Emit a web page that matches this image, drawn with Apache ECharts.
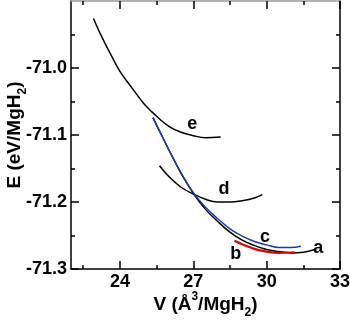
<!DOCTYPE html>
<html>
<head>
<meta charset="utf-8">
<script src="https://cdn.jsdelivr.net/npm/echarts@6/dist/echarts.min.js"></script>
<style>
  html, body { margin: 0; padding: 0; background: #fff; }
  #chart { width: 350px; height: 322px; }
</style>
</head>
<body>
<div id="chart"></div>
<script>
// curves: [V (Å3/MgH2), E (eV/MgH2)]
const curveA = [[25.35, -71.074], [25.7, -71.1], [26.0, -71.122], [26.5, -71.157], [27.0, -71.187],
  [27.5, -71.211], [28.0, -71.229], [28.5, -71.245], [29.0, -71.257], [29.5, -71.265],
  [30.0, -71.271], [30.5, -71.274], [31.0, -71.276], [31.5, -71.275], [31.97, -71.271]];
const curveB = [[28.68, -71.258], [29.0, -71.263], [29.5, -71.270], [30.0, -71.274], [30.5, -71.276], [31.15, -71.275]];
const curveC = [[25.35, -71.074], [25.7, -71.1], [26.0, -71.122], [26.5, -71.157], [27.0, -71.186],
  [27.5, -71.208], [28.0, -71.225], [28.5, -71.240], [29.0, -71.251], [29.5, -71.259],
  [30.0, -71.264], [30.5, -71.268], [31.0, -71.268], [31.4, -71.266]];
const curveD = [[25.62, -71.146], [26.0, -71.162], [26.5, -71.178], [27.0, -71.188], [27.5, -71.196],
  [28.0, -71.2], [28.5, -71.2], [29.0, -71.198], [29.5, -71.194], [29.82, -71.189]];
const curveE = [[22.92, -70.926], [23.2, -70.949], [23.6, -70.978], [24.0, -71.005], [24.5, -71.03],
  [25.0, -71.054], [25.5, -71.072], [26.0, -71.087], [26.5, -71.096], [27.0, -71.101],
  [27.5, -71.104], [28.12, -71.103]];

const labelNames = ['a', 'b', 'c', 'd', 'e'];
const labelV = [32.11, 28.74, 29.93, 28.26, 26.96];
const labelE = [-71.269, -71.277, -71.253, -71.181, -71.083];

const xMajor = [24, 27, 30, 33];
const xMinor = [22.5, 25.5, 28.5, 31.5];
const yMajor = [-71.3, -71.2, -71.1, -71.0];
const yMinor = [-71.25, -71.15, -71.05, -70.95];

const chart = echarts.init(document.getElementById('chart'));
const font = 'Liberation Sans, Arial, sans-serif';
const black = '#000';

function xAxisOf(position, ticks, len, showLabel, lineColor) {
  return {
    type: 'value', position: position, min: 22, max: 33,
    axisLine: { show: !!lineColor, lineStyle: { color: lineColor || black, width: 1.5 } },
    axisTick: { show: true, inside: true, length: len, customValues: ticks, lineStyle: { color: black, width: 1.5 } },
    axisLabel: showLabel ? {
      show: true, customValues: ticks, margin: 4, color: black,
      fontFamily: font, fontWeight: 'bold', fontSize: 18
    } : { show: false },
    splitLine: { show: false }
  };
}

function yAxisOf(position, ticks, len, showLabel, lineColor) {
  return {
    type: 'value', position: position, min: -71.3, max: -70.9,
    axisLine: { show: !!lineColor, lineStyle: { color: lineColor || black, width: 1.5 } },
    axisTick: { show: true, inside: true, length: len, customValues: ticks, lineStyle: { color: black, width: 1.5 } },
    axisLabel: showLabel ? {
      show: true, customValues: ticks, margin: 4, color: black,
      fontFamily: font, fontWeight: 'bold', fontSize: 18,
      formatter: v => v.toFixed(1)
    } : { show: false },
    splitLine: { show: false }
  };
}

const xMain = xAxisOf('bottom', xMajor, 8, true, black);
xMain.name = 'V (Å{sup|3}/MgH{sub|2})';
xMain.nameLocation = 'middle';
xMain.nameGap = 22;
xMain.nameMoveOverlap = false;
xMain.nameTextStyle = {
  color: black, fontFamily: font, fontWeight: 'bold', fontSize: 19, lineHeight: 28,
  rich: {
    sup: { fontFamily: font, fontWeight: 'bold', fontSize: 12, verticalAlign: 'top', lineHeight: 28 },
    sub: { fontFamily: font, fontWeight: 'bold', fontSize: 12, verticalAlign: 'bottom', lineHeight: 24 }
  }
};

const yMain = yAxisOf('left', yMajor, 8, true, black);
yMain.name = 'E (eV/MgH{sub|2})';
yMain.nameLocation = 'middle';
yMain.nameGap = 42;
yMain.nameMoveOverlap = false;
yMain.nameTextStyle = {
  color: black, fontFamily: font, fontWeight: 'bold', fontSize: 19, lineHeight: 28,
  rich: {
    sub: { fontFamily: font, fontWeight: 'bold', fontSize: 12, verticalAlign: 'bottom', lineHeight: 24 }
  }
};

function line(data, color, width) {
  return {
    type: 'line', data: data, smooth: 0.4, showSymbol: false, symbol: 'none',
    lineStyle: { color: color, width: width }, z: 3, silent: true
  };
}

chart.setOption({
  animation: false,
  grid: { left: 71, right: 10, top: 1, bottom: 53, containLabel: false, outerBoundsMode: 'none' },
  xAxis: [
    xMain,
    xAxisOf('bottom', xMinor, 4, false, null),
    xAxisOf('top', xMajor, 8, false, '#999'),
    xAxisOf('top', xMinor, 4, false, null)
  ],
  yAxis: [
    yMain,
    yAxisOf('left', yMinor, 4, false, null),
    yAxisOf('right', yMajor, 8, false, black),
    yAxisOf('right', yMinor, 4, false, null)
  ],
  series: [
    line(curveE, black, 1.5),
    line(curveD, black, 1.5),
    line(curveA, black, 1.5),
    line(curveB, '#e00000', 2.2),
    line(curveC, '#1c3f9e', 1.5),
    {
      type: 'scatter', symbolSize: 0, silent: true, z: 5,
      itemStyle: { opacity: 1 },
      data: labelNames.map((n, i) => ({ name: n, value: [labelV[i], labelE[i]] })),
      label: {
        show: true, position: 'inside', formatter: p => p.name,
        color: black, fontFamily: font, fontWeight: 'bold', fontSize: 18
      }
    }
  ]
});

window.addEventListener('resize', () => chart.resize());
</script>
</body>
</html>
